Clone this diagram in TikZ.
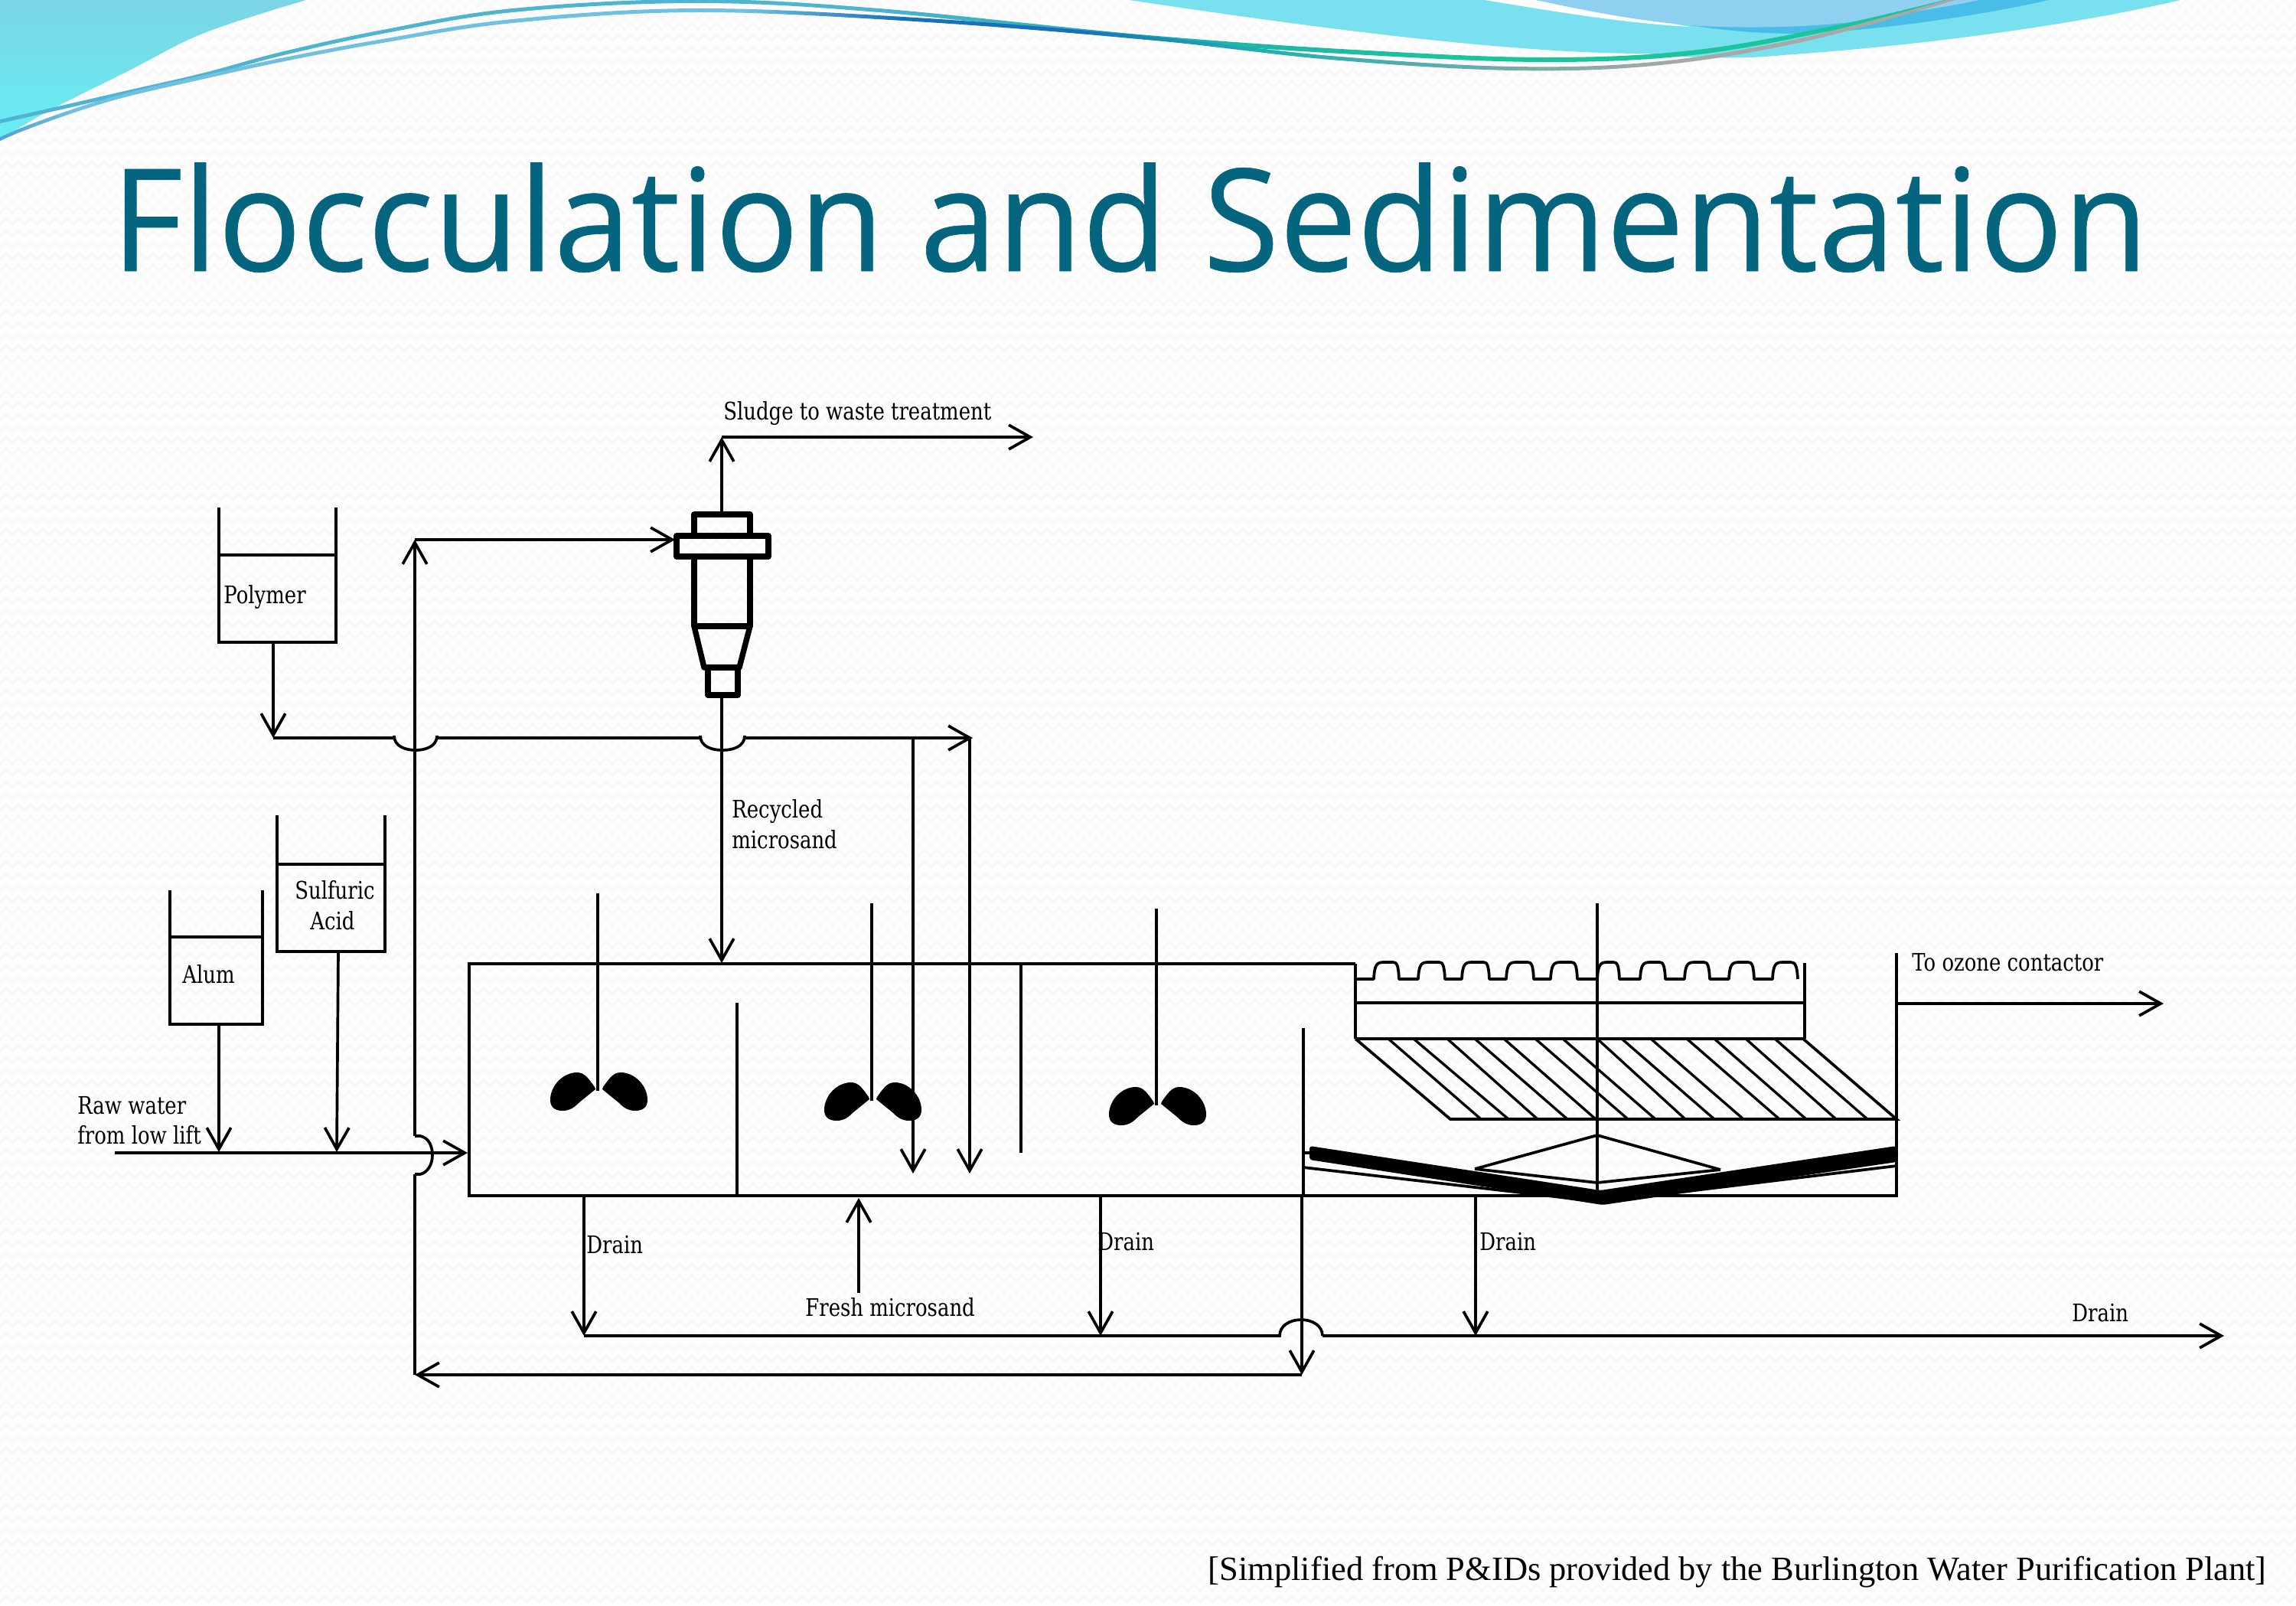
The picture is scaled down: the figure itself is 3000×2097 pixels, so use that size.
\documentclass[tikz,border=0pt]{standalone}
\usepackage{fontspec}
\usetikzlibrary{arrows.meta,patterns}
\setmainfont[FakeStretch=0.973,FakeBold=0.35]{Open Sans}
\newfontfamily\plantfont[FakeStretch=0.82]{DejaVu Serif}
\newfontfamily\notefont{Liberation Serif}
\definecolor{pagebg}{HTML}{FDFDFD}
\definecolor{pageweave}{HTML}{F8F8F8}
\definecolor{titleblue}{HTML}{05657F}
\definecolor{bandcyan}{HTML}{78E0EE}
\definecolor{skyblue}{HTML}{8FD0F0}
\definecolor{deepsky}{HTML}{48BDE8}
\definecolor{cornertop}{HTML}{7BD5E4}
\definecolor{cornerlow}{HTML}{66EEF5}
\definecolor{rGreen}{HTML}{1BC49A}
\definecolor{rTeal}{HTML}{20B0B0}
\definecolor{rSky}{HTML}{50B4D0}
\definecolor{rPale}{HTML}{70C0E0}
\definecolor{rBlue}{HTML}{1A70B8}
\definecolor{rGrey}{HTML}{A8A8A8}
\definecolor{rDeep}{HTML}{2080A0}
\pgfdeclarehorizontalshading{upperribbon}{100bp}{
  color(0bp)=(rGreen);color(6bp)=(rGreen);color(10.5bp)=(rTeal);
  color(13.6bp)=(rSky);color(46.7bp)=(rSky);color(54.5bp)=(rTeal);
  color(62bp)=(rGreen);color(100bp)=(rGreen)}
\pgfdeclarehorizontalshading{lowerribbon}{100bp}{
  color(0bp)=(rGrey);color(2.3bp)=(rGrey);color(6.6bp)=(rTeal);
  color(10.5bp)=(rTeal);color(17.5bp)=(rBlue);color(21.8bp)=(rBlue);
  color(27bp)=(rPale);color(44bp)=(rPale);color(48bp)=(rBlue);
  color(52.5bp)=(rBlue);color(57bp)=(rTeal);color(67.7bp)=(rGrey);
  color(86bp)=(rGrey);color(92bp)=(rDeep);color(100bp)=(rDeep)}
\pgfdeclarepatternformonly{pageweft}{\pgfqpoint{0pt}{0pt}}{\pgfqpoint{9.1pt}{8.5pt}}{\pgfqpoint{9.1pt}{8.5pt}}{
  \pgfsetlinewidth{1.8pt}
  \pgfpathmoveto{\pgfqpoint{-2pt}{0pt}}
  \pgfpathlineto{\pgfqpoint{4.55pt}{6.5pt}}
  \pgfpathlineto{\pgfqpoint{11.1pt}{0pt}}
  \pgfusepath{stroke}}
\tikzset{
  pipe/.style={line width=2.1pt,line join=miter},
  flow/.style={pipe,-{Straight Barb[length=16pt,width=18pt]}},
  vessel/.style={line width=4.2pt,line join=round},
  plantlabel/.style={inner sep=0pt,anchor=base west,font=\plantfont\fontsize{18}{18}\selectfont},
  impeller/.pic={
    \fill[black] (-4,19) .. controls (-12,8) and (-17,0) .. (-27,0)
      .. controls (-45,0) and (-62,17) .. (-62,36)
      .. controls (-62,46) and (-55,50) .. (-46,50)
      .. controls (-36,50) and (-30,45) .. (-24,39) -- (-3,22) -- cycle;
    \fill[black] (7,19) .. controls (15,8) and (20,0) .. (30,0)
      .. controls (48,0) and (65,17) .. (65,36)
      .. controls (65,46) and (58,50) .. (49,50)
      .. controls (39,50) and (33,45) .. (27,39) -- (6,22) -- cycle;
  }
}
\begin{document}
\begin{tikzpicture}[x=0.02cm,y=-0.02cm]
\useasboundingbox (0,0) rectangle (3000,2097);
\fill[pagebg] (0,0) rectangle (3000,2097);
\fill[pattern=pageweft,pattern color=pageweave] (0,0) rectangle (3000,2097);

% header waves
\begin{scope}
\clip (0,0) rectangle (3000,2097);
\path[top color=cornertop,bottom color=cornerlow]
  (0,0) -- plot[smooth,tension=0.6] coordinates {(400,0) (267,43) (167,93) (67,143) (0,182)} -- cycle;
\fill[bandcyan] (1475,0) .. controls (1650,26) and (1950,70) .. (2151,70)
  .. controls (2230,78) and (2290,76) .. (2330,72)
  .. controls (2500,60) and (2700,35) .. (2849,0) -- cycle;
\fill[pagebg] (1940,0) .. controls (2030,15) and (2120,30) .. (2208,35)
  .. controls (2130,20) and (2060,10) .. (2007,0) -- cycle;
\fill[deepsky] (2208,33) .. controls (2270,42) and (2310,44) .. (2352,44)
  .. controls (2450,40) and (2580,22) .. (2677,0) -- (2500,0) -- cycle;
\fill[skyblue] (2007,0) .. controls (2090,18) and (2150,28) .. (2208,33)
  .. controls (2260,37) and (2380,38) .. (2457,23)
  .. controls (2500,15) and (2550,8) .. (2586,0) -- cycle;
\path[shading=upperribbon]
  plot[smooth,tension=0.6] coordinates {(-4,157) (67,141) (167,118) (267,95) (367,68) (500,39) (670,11) (909,-1) (1148,11) (1500,46) (1787,66) (2026,75) (2218,65) (2409,31) (2564,-6)}
  -- plot[smooth,tension=0.6] coordinates {(2568,-4) (2411,36) (2220,71) (2026,81) (1787,72) (1500,52) (1148,16) (909,4) (670,16) (500,44) (367,73) (267,100) (167,123) (67,146) (-4,162)} -- cycle;
\path[shading=lowerribbon]
  plot[smooth,tension=0.6] coordinates {(-4,181) (33,165) (100,141) (167,121) (267,98) (367,76) (500,51) (670,25) (909,11) (1196,23) (1500,47) (1739,73) (1978,87) (2170,80) (2361,48) (2564,-6)}
  -- plot[smooth,tension=0.6] coordinates {(2568,-4) (2363,53) (2170,85) (1978,92) (1739,78) (1500,52) (1196,28) (909,16) (670,30) (500,56) (367,81) (267,103) (167,126) (100,146) (33,170) (-2,185)} -- cycle;
\end{scope}

% slide title and source note
\node[inner sep=0pt,anchor=base west,text=titleblue,font=\fontsize{106}{106}\selectfont] (title) at (145,354) {Flocculation and Sedimentation};
\node[inner sep=0pt,anchor=base east,font=\notefont\fontsize{25.3}{25.3}\selectfont] (note) at (2962,2064) {[Simplified from P\&IDs provided by the Burlington Water Purification Plant]};

% labels
\node[plantlabel] (lblSludge) at (945,548) {Sludge to waste treatment};
\node[plantlabel] (lblPolymer) at (292,788) {Polymer};
\node[plantlabel] (lblRecycled) at (956,1068) {Recycled};
\node[plantlabel] (lblMicro) at (956,1108) {microsand};
\node[plantlabel] (lblSulfuric) at (385,1174) {Sulfuric};
\node[plantlabel] (lblAcid) at (405,1214) {Acid};
\node[plantlabel] (lblAlum) at (238,1284) {Alum};
\node[plantlabel] (lblRaw) at (101,1455) {Raw water};
\node[plantlabel] (lblLift) at (101,1494) {from low lift};
\node[plantlabel] (lblDrainA) at (766,1637) {Drain};
\node[plantlabel] (lblDrainB) at (1434,1633) {Drain};
\node[plantlabel] (lblDrainC) at (1933,1633) {Drain};
\node[plantlabel] (lblDrainD) at (2707,1726) {Drain};
\node[plantlabel] (lblFresh) at (1052,1719) {Fresh microsand};
\node[plantlabel] (lblOzone) at (2498,1268) {To ozone contactor};

% junctions and connector ends
\coordinate (sludgeTurn) at (943,571);
\coordinate (sludgeEnd) at (1350,571);
\coordinate (cycloneTop) at (943,672);
\coordinate (cycloneBase) at (943,908);
\coordinate (cycloneInlet) at (882,705);
\coordinate (recycleTurn) at (542,705);
\coordinate (recycleBelow) at (542,1484);
\coordinate (recycleResume) at (542,1534);
\coordinate (returnCorner) at (542,1796);
\coordinate (returnStart) at (1701,1796);
\coordinate (wallFoot) at (1703,1563);
\coordinate (wallTop) at (1703,1343);
\coordinate (polymerOut) at (357,839);
\coordinate (polymerJoin) at (357,964);
\coordinate (jumpA) at (515,964);
\coordinate (jumpB) at (571,964);
\coordinate (jumpC) at (915,964);
\coordinate (jumpD) at (973,964);
\coordinate (polymerEnd) at (1271,964);
\coordinate (dosingA) at (1193,964);
\coordinate (dosingATip) at (1193,1533);
\coordinate (dosingB) at (1267,964);
\coordinate (dosingBTip) at (1267,1533);
\coordinate (sandTip) at (943,1258);
\coordinate (sandBelow) at (943,980);
\coordinate (alumOut) at (286,1338);
\coordinate (alumIn) at (286,1505);
\coordinate (acidOut) at (442,1243);
\coordinate (acidIn) at (440,1505);
\coordinate (rawStart) at (150,1506);
\coordinate (rawEnd) at (611,1506);
\coordinate (drainAOut) at (763,1562);
\coordinate (drainAIn) at (763,1745);
\coordinate (drainBOut) at (1438,1562);
\coordinate (drainBIn) at (1438,1745);
\coordinate (drainCOut) at (1928,1562);
\coordinate (drainCIn) at (1928,1745);
\coordinate (jumpE) at (1672,1745);
\coordinate (jumpF) at (1728,1745);
\coordinate (drainEnd) at (2906,1745);
\coordinate (freshStart) at (1122,1689);
\coordinate (freshTip) at (1122,1565);
\coordinate (ozoneOut) at (2478,1311);
\coordinate (ozoneEnd) at (2827,1311);

% chemical feed tanks
\draw[pipe] (286,663) -- (286,839) -- (439,839) -- (439,663) (286,725) -- (439,725);
\draw[pipe] (222,1163) -- (222,1338) -- (343,1338) -- (343,1163) (222,1224) -- (343,1224);
\draw[pipe] (362,1065) -- (362,1243) -- (503,1243) -- (503,1065) (362,1129) -- (503,1129);

% hydrocyclone
\draw[vessel] (907,672) rectangle (980,700);
\draw[vessel] (884,700) rectangle (1004,727);
\draw[vessel] (907,727) rectangle (980,818);
\draw[vessel] (907,818) -- (920,872) -- (966,872) -- (980,818);
\draw[vessel] (925,872) rectangle (964,908);

% process connectors
\draw[flow] (cycloneTop) -- (sludgeTurn);
\draw[flow] (sludgeTurn) -- (sludgeEnd);
\draw[flow] (recycleBelow) -- (recycleTurn);
\draw[flow] (recycleTurn) -- (cycloneInlet);
\draw[pipe] (recycleBelow) -- (549,1484) .. controls (560,1486) and (565,1497) .. (565,1509)
  .. controls (565,1522) and (558,1532) .. (549,1534) -- (recycleResume);
\draw[pipe] (recycleResume) -- (returnCorner);
\draw[flow] (returnStart) -- (returnCorner);
\draw[flow] (polymerOut) -- (polymerJoin);
\draw[pipe] (polymerJoin) -- (jumpA) -- (515,961) .. controls (515,975) and (530,980) .. (543,980)
  .. controls (556,980) and (571,975) .. (571,961) -- (jumpB);
\draw[pipe] (jumpB) -- (jumpC) -- (915,961) .. controls (915,975) and (930,980) .. (944,980)
  .. controls (958,980) and (973,975) .. (973,961) -- (jumpD);
\draw[flow] (jumpD) -- (polymerEnd);
\draw[pipe] (cycloneBase) -- (sandBelow);
\draw[flow] (sandBelow) -- (sandTip);
\draw[flow] (dosingA) -- (dosingATip);
\draw[flow] (dosingB) -- (dosingBTip);
\draw[flow] (alumOut) -- (alumIn);
\draw[flow] (acidOut) -- (acidIn);
\draw[flow] (rawStart) -- (rawEnd);
\draw[flow] (drainAOut) -- (drainAIn);
\draw[flow] (drainBOut) -- (drainBIn);
\draw[flow] (drainCOut) -- (drainCIn);
\draw[pipe] (drainAIn) -- (jumpE) .. controls (1672,1732) and (1685,1724) .. (1700,1724)
  .. controls (1715,1724) and (1728,1732) .. (jumpF);
\draw[flow] (jumpF) -- (drainEnd);
\draw[flow] (wallFoot) ++(-2,0) -- (returnStart);
\draw[flow] (freshStart) -- (freshTip);
\draw[flow] (ozoneOut) -- (ozoneEnd);

% mixing basins
\draw[pipe] (1771,1259) -- (613,1259) -- (613,1562) -- (2478,1562) -- (2478,1245);
\draw[pipe] (963,1310) -- (963,1562);
\draw[pipe] (1334,1259) -- (1334,1506);
\draw[pipe] (781,1167) -- (781,1425);
\draw[pipe] (1139,1180) -- (1139,1438);
\draw[pipe] (1511,1187) -- (1511,1444);
\pic at (781,1401) {impeller};
\pic at (1139,1414) {impeller};
\pic at (1511,1420) {impeller};
\draw[pipe] (wallTop) -- (wallFoot);

% clarifier launders and tube settlers
\draw[pipe] (1771,1259) -- (1771,1357);
\draw[pipe] (2358,1258) -- (2358,1357);
\draw[pipe] (2087,1180) -- (2087,1563);
\draw[pipe] (1771,1310) -- (2358,1310);
\draw[pipe] (1771,1357) -- (2358,1357);
\draw[pipe,line join=round] (1771,1279) -- (1795,1279)
  \foreach \a/\b/\c in {1795/1828/1853,1853/1888/1910,1910/1946/1968,1968/2004/2026,2026/2061/2087,2087/2116/2143,2143/2176/2201,2201/2234/2259,2259/2292/2316}{
    .. controls (\a+1,1260) and (\a+4,1257) .. (\a+13,1257) -- (\b-8,1257) .. controls (\b-3,1257) and (\b-1,1260) .. (\b,1279) -- (\c,1279)
  }
  .. controls (2317,1260) and (2320,1257) .. (2329,1257) -- (2340,1257) .. controls (2346,1257) and (2348,1262) .. (2349,1279);
\draw[pipe] (1771,1357) -- (1895,1462) -- (2478,1462) -- (2356,1357);
\draw[pipe,line width=1.9pt] \foreach \t/\u in {1814/1935,1847/1971,1891/2009,1927/2048,1965/2085,2006/2127,2042/2163,2087/2202,2119/2240,2157/2278,2204/2325,2240/2360,2281/2399,2319/2440}{ (\t,1357) -- (\u,1462) };

% sludge hopper and scraper
\draw[pipe] (1927,1527) -- (2087,1483) -- (2248,1528) (1927,1527) -- (2087,1545) -- (2248,1528);
\draw[pipe] (1703,1525) -- (2091,1570) -- (2478,1523);
\draw[pipe] (1703,1506) -- (1712,1506);
\fill[black,rounded corners=2pt] (1711,1497) -- (2091,1555) -- (2478,1497) -- (2478,1518) -- (2094,1574) -- (1711,1515) -- cycle;
\end{tikzpicture}
\end{document}
